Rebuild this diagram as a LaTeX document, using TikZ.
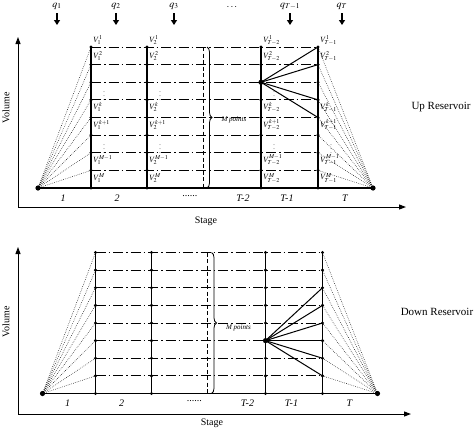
\documentclass[tikz,border=0pt]{standalone}
\usepackage{mathptmx}
\usepackage{fontspec}
\setmainfont{Liberation Serif}
\usetikzlibrary{arrows.meta,decorations.pathreplacing}
\newcommand{\mygrid}{%
  \coordinate (O) at (38,188);
  \coordinate (E) at (373,188);
  \foreach \c/\x in {1/91,2/147,3/261,4/318}{
    \foreach \r in {1,...,8}{\coordinate (p\c-\r) at (\x,{47+(\r-1)*17.625});}
    \coordinate (p\c-9) at (\x,188);
  }
  \coordinate (dtop) at (203,47); \coordinate (dbot) at (203,188);
  \coordinate (btop) at (207,47); \coordinate (bbot) at (207,188);
  \foreach \r in {1,...,8}{
    \draw[dotline] (O) -- (p1-\r);
    \draw[dotline] (E) -- (p4-\r);
    \draw[rowline] (p1-\r) -- (p4-\r);
  }
  \draw[dashcol] (dtop) -- (dbot);
  \draw[decorate,decoration={brace,amplitude=5pt},line width=0.8pt] (btop) -- (bbot);
  \foreach \c in {1,...,4}{\draw[colline] (p\c-1) -- (p\c-9);}
  \draw[colline] (O) -- (E);
  \node[stlab] (s1) at (63,198) {1};
  \node[stlab] (s2) at (117,198) {2};
  \node[stlab] (s3) at (190,196) {......};
  \node[stlab] (s4) at (243,198) {T-2};
  \node[stlab] (s5) at (287,198) {T-1};
  \node[stlab] (s6) at (345,198) {T};
}
\newcommand{\mydots}{%
  \foreach \c in {1,...,4}{\foreach \r in {1,...,9}{\fill (p\c-\r) circle (1.7pt);}}
  \fill (O) circle (2.6pt);
  \fill (E) circle (2.6pt);
}
\begin{document}
\begin{tikzpicture}[x=1pt,y=-1pt,
  colline/.style={line width=1.2pt},
  rowline/.style={line width=0.9pt,dash pattern=on 10pt off 3pt on 1.5pt off 3pt},
  dashcol/.style={line width=0.9pt,dash pattern=on 4pt off 2.5pt},
  dotline/.style={line width=0.5pt,dash pattern=on 0.6pt off 1.3pt},
  fanline/.style={line width=1pt},
  axisline/.style={line width=1pt,-{Triangle[length=7pt,width=5pt]}},
  qarrow/.style={line width=1.6pt,-{Triangle[length=5pt,width=6pt]}},
  qlab/.style={inner sep=1pt,font=\fontsize{10}{12}\selectfont},
  stlab/.style={font=\fontsize{10}{12}\selectfont\itshape},
  vlab/.style={anchor=west,inner sep=0.3pt,font=\fontsize{8}{9}\selectfont},
  vd/.style={inner sep=0pt,font=\fontsize{6}{7}\selectfont},
  mlab/.style={font=\fontsize{7}{8}\selectfont\itshape},
  axlab/.style={font=\fontsize{10}{12}\selectfont},
  reslab/.style={font=\fontsize{11}{13}\selectfont}]
\useasboundingbox (0,0) rectangle (474,429);
% inflow arrows
\foreach \i/\x/\t in {1/57/q_{1},2/116/q_{2},3/174/q_{3},4/290/q_{T-1},5/342/q_{T}}{
  \node[qlab] (q\i) at (\x,6) {$\t$};
  \coordinate (qs\i) at (\x,13);
  \coordinate (qe\i) at (\x,25);
  \draw[qarrow] (qs\i) -- (qe\i);
}
\node[qlab] (qdots) at (232,7) {$\cdots$};
% axes top
\coordinate (a1o) at (18,207);
\coordinate (a1y) at (18,37);
\coordinate (a1x) at (406,207);
\draw[axisline] (a1o) -- (a1y);
\draw[axisline] (a1o) -- (a1x);
\node[axlab,rotate=90] (vol1) at (6,108) {Volume};
\node[axlab] (stg1) at (206,221) {Stage};
\node[reslab] (up) at (441,107) {Up Reservoir};
% axes bottom
\coordinate (a2o) at (18,414);
\coordinate (a2y) at (18,247);
\coordinate (a2x) at (411,414);
\draw[axisline] (a2o) -- (a2y);
\draw[axisline] (a2o) -- (a2x);
\node[axlab,rotate=90] (vol2) at (6,322) {Volume};
\node[axlab] (stg2) at (212,423) {Stage};
\node[reslab] (down) at (437,312) {Down Reservoir};
% top panel
\begin{scope}[name prefix=up-]
  \mygrid
  \node[mlab] (mp) at (234,120) {M points};
  \foreach \t in {1,2,4,5}{\draw[fanline] (p3-3) -- (p4-\t);}
  \mydots
  \fill (p3-3) circle (2.6pt);
  \foreach \c/\x/\s in {1/91/1,2/147/2,3/261/T-2,4/318/T-1}{
    \node[vlab] (v\c-a) at (\x+2,40) {$V_{\s}^{1}$};
    \node[vlab] (v\c-b) at (\x+2,56) {$V_{\s}^{2}$};
    \node[vlab] (v\c-k) at (\x+2,107) {$V_{\s}^{k}$};
    \node[vlab] (v\c-l) at (\x+2,125) {$V_{\s}^{k+1}$};
    \node[vlab] (v\c-m) at (\x+2,160) {$V_{\s}^{M-1}$};
    \node[vlab] (v\c-n) at (\x+2,178) {$V_{\s}^{M}$};
    \node[vd] (d\c-b) at (\x+13,146) {$\vdots$};
  }
  \foreach \c/\x in {1/91,2/147,3/261}{\node[vd] (d\c-a) at (\x+13,93) {$\vdots$};}
\end{scope}
% bottom panel
\begin{scope}[shift={(4.5,205.5)},name prefix=dn-]
  \mygrid
  \node[mlab] (mp) at (234,122) {M points};
  \foreach \t in {3,4,5,6,7,8}{\draw[fanline] (p3-6) -- (p4-\t);}
  \mydots
  \fill (p3-6) circle (2.6pt);
\end{scope}
\end{tikzpicture}
\end{document}
